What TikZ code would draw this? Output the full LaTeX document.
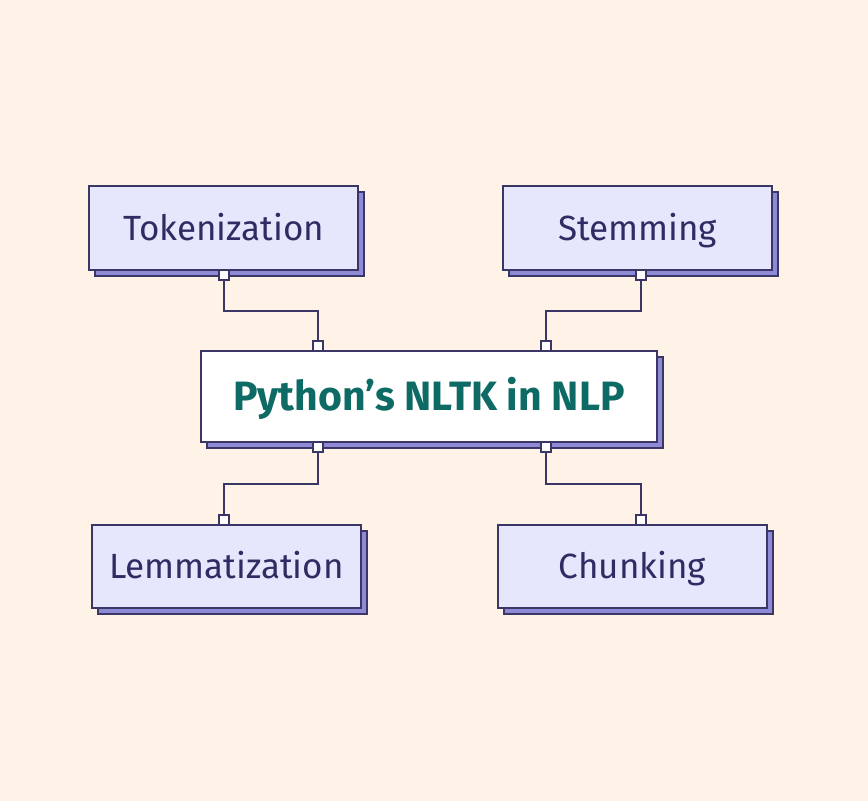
\documentclass[tikz,border=0pt]{standalone}
\usepackage{fontspec}
\setmainfont{Fira Sans}
\usepackage{tikz}
\usetikzlibrary{shadows}
\definecolor{bgcol}{HTML}{FEF3E6}
\definecolor{boxcol}{HTML}{E6E6FC}
\definecolor{shadecol}{HTML}{8E8AD6}
\definecolor{linecol}{HTML}{3A3766}
\definecolor{textcol}{HTML}{2F2C63}
\definecolor{titlecol}{HTML}{0E6A64}
\tikzstyle{topic}=[draw=linecol, line width=1.5pt, fill=boxcol, text=textcol,
  minimum width=269pt, minimum height=84pt, inner sep=0pt, text height=24pt, text depth=0pt,
  font=\fontsize{35}{40}\selectfont,
  copy shadow={shadow xshift=6pt, shadow yshift=-6pt, fill=shadecol, draw=linecol, line width=1.5pt}]
\tikzstyle{hub}=[topic, fill=white, text=titlecol, minimum width=456pt, minimum height=91pt,
  text height=28pt, font=\fontsize{41}{46}\selectfont\bfseries]
\tikzstyle{port}=[rectangle, draw=linecol, fill=white, line width=1.2pt, minimum size=10pt, inner sep=0pt]
\tikzstyle{wire}=[draw=linecol, line width=1.5pt]

\begin{document}
\begin{tikzpicture}[x=1pt, y=-1pt]
		   \fill[bgcol] (0,0) rectangle (868,801);
		   \useasboundingbox (0,0) rectangle (868,801);
		   \begin{scope}
			   \node (0) at (429, 396.5)[hub] {Python’s NLTK in NLP};
			   \node (1) at (223.5, 228)[topic] {Tokenization};
			   \node (2) at (637.5, 228)[topic] {Stemming};
			   \node (3) at (226.5, 566.5)[topic, minimum height=83pt] {Lemmatization};
			   \node (4) at (632.5, 566.5)[topic, minimum height=83pt] {Chunking};
		   \end{scope}
		   \begin{scope}
			   \node (p1) at (224, 275)[port] {};
			   \node (p2) at (641, 275)[port] {};
			   \node (p3) at (318, 346)[port] {};
			   \node (p4) at (546, 346)[port] {};
			   \node (p5) at (318, 447)[port] {};
			   \node (p6) at (546, 447)[port] {};
			   \node (p7) at (224, 520)[port] {};
			   \node (p8) at (641, 520)[port] {};
		   \end{scope}
		   \begin{scope}
			   \coordinate (m1) at (271, 311);
			   \coordinate (m2) at (593, 311);
			   \coordinate (m3) at (271, 484);
			   \coordinate (m4) at (593, 484);
			   \path [wire] (p1) |- (m1) -| (p3);
			   \path [wire] (p2) |- (m2) -| (p4);
			   \path [wire] (p5) |- (m3) -| (p7);
			   \path [wire] (p6) |- (m4) -| (p8);
		   \end{scope}
	   \end{tikzpicture}
\end{document}
